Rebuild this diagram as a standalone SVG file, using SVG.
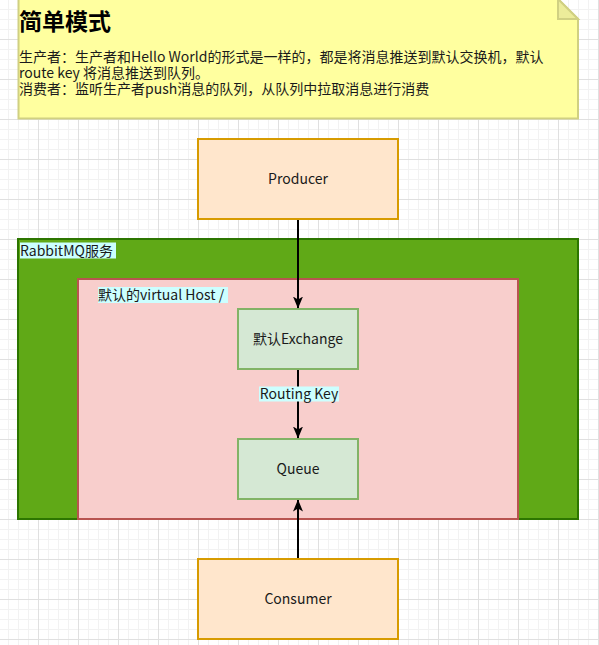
<svg xmlns="http://www.w3.org/2000/svg" width="599" height="645" viewBox="0 0 599 645">
<style>
text{font-family:"Noto Sans CJK SC","Liberation Sans",sans-serif;font-size:14px;fill:#1a1a1a}
.c{text-anchor:middle}
.lbl{fill:#ccffff}
.conn{stroke:#000;stroke-width:2;fill:none}
.green{fill:#d5e8d4;stroke:#82b366;stroke-width:2}
.orange{fill:#ffe6cc;stroke:#d79b00;stroke-width:2}
</style>
<defs>
<pattern id="grid" patternUnits="userSpaceOnUse" x="38" y="39" width="40" height="40">
<path d="M10.5,0V40M20.5,0V40M30.5,0V40M0,10.5H40M0,20.5H40M0,30.5H40" stroke="#f2f2f2" stroke-width="1" fill="none"/>
<path d="M0.5,0V40M0,0.5H40" stroke="#e0e0e0" stroke-width="1" fill="none"/>
</pattern>
<marker id="arr" viewBox="0 0 12 10" refX="11.5" refY="5" markerWidth="12" markerHeight="10" orient="auto" markerUnits="userSpaceOnUse">
<path d="M0,0 L12,5 L0,10 L3,5 Z" fill="#000"/>
</marker>
</defs>
<rect width="599" height="645" fill="#ffffff"/>
<rect width="599" height="645" fill="url(#grid)"/>

<g id="note">
<path d="M18.5,-1 H558 L578,19 V118.5 H18.5 Z" fill="#ffff9f" stroke="#d0d082" stroke-width="2"/>
<path d="M558,-1 V19 H578 Z" fill="#ecec9a" stroke="#d0d082" stroke-width="2"/>
<text x="19" y="30" style="font-size:23px;font-weight:bold;fill:#000">简单模式</text>
<text x="19" y="62">生产者：生产者和Hello World的形式是一样的，都是将消息推送到默认交换机，默认</text>
<text x="19" y="78">route key 将消息推送到队列。</text>
<text x="19" y="94">消费者：监听生产者push消息的队列，从队列中拉取消息进行消费</text>
</g>

<g id="rabbitmq">
<rect x="18" y="239" width="560" height="280" fill="#60a917" stroke="#2d7600" stroke-width="2"/>
<rect class="lbl" x="20" y="242.5" width="96" height="16"/>
<text x="20" y="255.5">RabbitMQ服务</text>
</g>

<g id="vhost">
<rect x="78" y="279" width="440" height="240" fill="#f8cecc" stroke="#b85450" stroke-width="2"/>
<rect class="lbl" x="98" y="287" width="130" height="16"/>
<text x="98" y="300">默认的virtual Host /</text>
</g>

<g id="producer">
<rect class="orange" x="198" y="139" width="200" height="80"/>
<text class="c" x="298" y="184">Producer</text>
</g>

<g id="exchange">
<rect class="green" x="238" y="309" width="120" height="60"/>
<text class="c" x="298" y="344">默认Exchange</text>
</g>

<g id="queue">
<rect class="green" x="238" y="439" width="120" height="60"/>
<text class="c" x="298" y="474">Queue</text>
</g>

<g id="consumer">
<rect class="orange" x="198" y="559" width="200" height="80"/>
<text class="c" x="298" y="604">Consumer</text>
</g>

<g id="connectors">
<path class="conn" d="M298,220 V308" marker-end="url(#arr)"/>
<path class="conn" d="M298,370 V438" marker-end="url(#arr)"/>
<path class="conn" d="M298,558 V500" marker-end="url(#arr)"/>
<rect class="lbl" x="259" y="386.5" width="80" height="15"/>
<text class="c" x="299" y="399">Routing Key</text>
</g>
</svg>
